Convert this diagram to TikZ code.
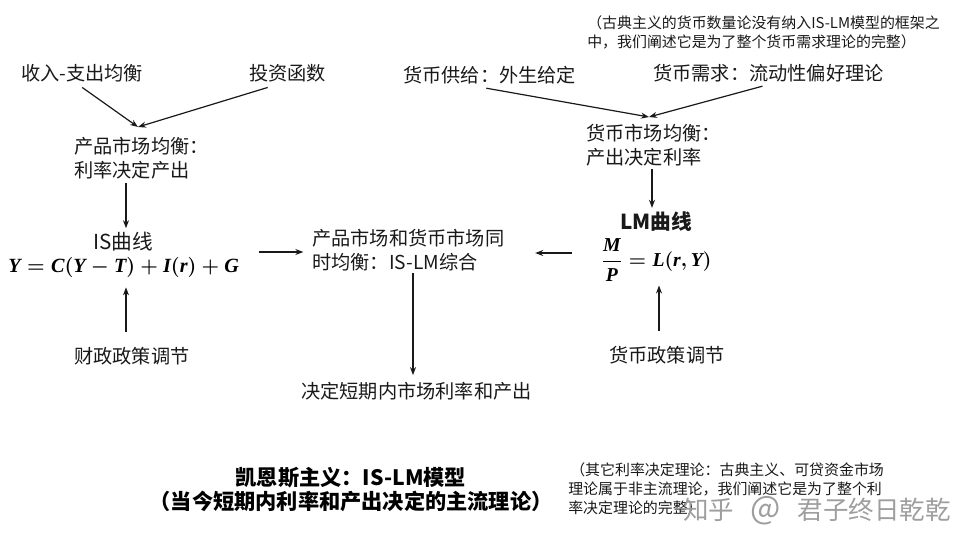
\documentclass[tikz,border=0pt]{standalone}
\usepackage{amsmath}
\usepackage{graphicx}
\usepackage[no-math]{fontspec}
\setmainfont{Noto Sans CJK SC}
\newfontfamily\eqfont{Liberation Serif}
\newcommand{\vb}[1]{\text{\eqfont\bfseries\itshape #1}}
\newcommand{\fwcolon}{\char"FF1A\relax}
\newcommand{\fwcomma}{\char"FF0C\relax}
\newcommand{\fwlp}{\char"FF08\relax}
\newcommand{\fwrp}{\char"FF09\relax}
\usetikzlibrary{arrows.meta}
\tikzset{
  txt/.style={anchor=west,inner sep=0pt,align=left,font=\fontsize{14.4}{18}\selectfont,text=black!90},
  curve/.style={anchor=west,inner sep=0pt,font=\fontsize{15.5}{18}\selectfont,text=black!90},
  note/.style={anchor=west,inner sep=0pt,align=left,font=\fontsize{11.2}{14.2}\selectfont,text=black!90},
  ttl/.style={anchor=center,inner sep=0pt,align=center,font=\fontsize{15.9}{18}\selectfont\bfseries,text=black},
  eq/.style={anchor=west,inner sep=0pt,text=black},
  wmark/.style={anchor=west,inner sep=0pt,font=\fontsize{19.1}{22}\selectfont,text=black!38},
  arr/.style={-{Stealth[length=6pt,width=4.5pt]},line width=0.9pt,black!90}
}
\begin{document}
\begin{tikzpicture}[x=0.75pt,y=-0.75pt]
\useasboundingbox (0,0) rectangle (975,550);
\node[note] (topnote) at (587,32.5) {\fwlp{}古典主义的货币数量论没有纳入IS-LM模型的框架之\\中\fwcomma{}我们阐述它是为了整个货币需求理论的完整\fwrp{}};
\node[txt] (incexp) at (21,73) {收入-支出均衡};
\node[txt] (invest) at (249,73) {投资函数};
\node[txt] (msupply) at (403,75) {货币供给\fwcolon{}外生给定};
\node[txt] (mdemand) at (653,73) {货币需求\fwcolon{}流动性偏好理论};
\node[txt] (goods) at (74,158) {产品市场均衡\fwcolon{}\\利率决定产出};
\node[txt] (money) at (586,145) {货币市场均衡\fwcolon{}\\产出决定利率};
\node[curve] (islabel) at (93,242) {IS曲线};
\node[eq] (iseq) at (8,267) {\scalebox{1.26}{\large\boldmath$\vb{Y}=\vb{C}(\vb{Y}-\vb{T})+\vb{I}(\vb{r})+\vb{G}$}};
\node[curve] (lmlabel) at (620,222) {\bfseries LM曲线};
\node[eq] (lmeq) at (601,260) {\scalebox{1.23}{\large\boldmath$\dfrac{\vb{M}}{\vb{P}}=\vb{L}(\vb{r},\vb{Y})$}};
\node[txt] (both) at (312,250) {产品市场和货币市场同\\时均衡\fwcolon{}IS-LM综合};
\node[txt] (fiscal) at (74,356) {财政政策调节};
\node[txt] (monetary) at (609,355) {货币政策调节};
\node[txt] (decide) at (301,391) {决定短期内市场利率和产出};
\node[ttl] (title) at (351,490) {凯恩斯主义\fwcolon{}IS-LM模型\\\fwlp{}当今短期内利率和产出决定的主流理论\fwrp{}};
\node[note] (botnote) at (568,489) {\hspace{1.5pt}\fwlp{}其它利率决定理论\fwcolon{}古典主义、可贷资金市场\\理论属于非主流理论\fwcomma{}我们阐述它是为了整个利\\率决定理论的完整\fwrp{}};
\node[wmark] (wm) at (683,511) {知乎\hspace{12.5pt}{\fontsize{24}{22}\selectfont @}\hspace{12.5pt}君子终日乾乾};
\coordinate (isjoin) at (138,127);
\coordinate (lmjoin) at (649,117);
\coordinate (isx) at (126,0);
\coordinate (lmtop) at (652,0);
\coordinate (lmbot) at (659,0);
\coordinate (midx) at (413,0);
\coordinate (rowl) at (0,252);
\coordinate (rowr) at (0,253);
\draw[arr] ([xshift=0pt,yshift=-4pt]incexp.south) -- (isjoin);
\draw[arr] ([xshift=-15pt,yshift=-4pt]invest.south) -- (isjoin);
\draw[arr] ([xshift=-2.5pt,yshift=-3pt]msupply.south) -- (lmjoin);
\draw[arr] ([xshift=-4.5pt,yshift=-3pt]mdemand.south) -- (lmjoin);
\draw[arr] ([yshift=-3pt]goods.south -| isx) -- ([yshift=3pt]islabel.north -| isx);
\draw[arr] ([yshift=-2pt]money.south -| lmtop) -- ([yshift=3pt]lmlabel.north -| lmtop);
\draw[arr] ([yshift=11pt]fiscal.north -| isx) -- ([yshift=-7.5pt]iseq.south -| isx);
\draw[arr] ([yshift=11pt]monetary.north -| lmbot) -- ([yshift=-3pt]lmeq.south -| lmbot);
\draw[arr] ([xshift=14.5pt]iseq.east |- rowl) -- ([xshift=-6.5pt]both.west |- rowl);
\draw[arr] ([yshift=-1.5pt]both.south -| midx) -- ([yshift=5pt]decide.north -| midx);
\draw[arr] ([xshift=-22pt]lmeq.west |- rowr) -- ([xshift=23pt]both.east |- rowr);
\end{tikzpicture}
\end{document}
